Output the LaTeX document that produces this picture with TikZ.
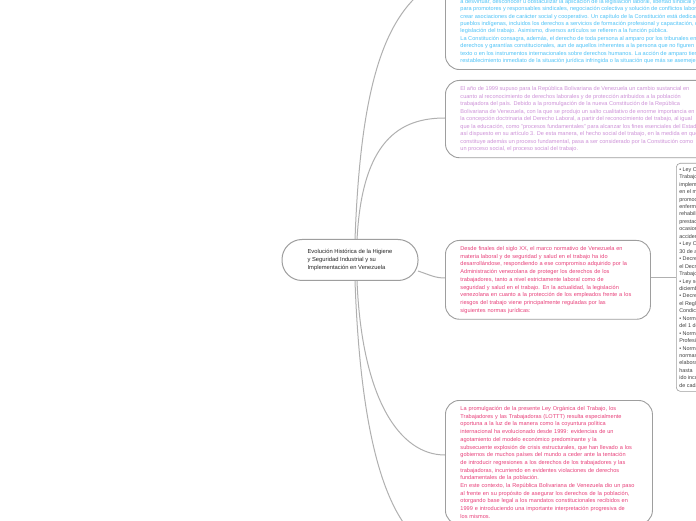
\documentclass[tikz,border=0pt]{standalone}
\usepackage{fontspec}
\setmainfont{Liberation Sans}
\definecolor{cblue}{HTML}{4FC3F7}
\definecolor{cpurp}{HTML}{CE93D8}
\definecolor{cpink}{HTML}{E8407A}
\definecolor{cbord}{HTML}{9E9E9E}
\definecolor{cline}{HTML}{B0B0B0}
\begin{document}
\begin{tikzpicture}[x=1pt,y=1pt,
  box/.style={draw=cbord,line width=0.9pt,rounded corners=14pt,fill=white,align=left,inner xsep=15pt,inner ysep=6pt,font=\fontsize{5.6}{7.5}\selectfont},
  rbox/.style={draw=cbord,line width=0.6pt,rounded corners=4pt,fill=white,align=left,inner xsep=3pt,inner ysep=4pt,font=\fontsize{5.4}{7.45}\selectfont,text=black!75},
  conn/.style={draw=cline,line width=1pt}]
\useasboundingbox (0,0) rectangle (696,520);
\clip (0,0) rectangle (696,520);
\fill[white] (0,0) rectangle (696,520);
\coordinate (topend) at (418,525);
\coordinate (botend) at (405,-5);
% connectors
\draw[conn] (355,280) .. controls (360,420) and (380,490) .. (topend);
\draw[conn] (357,280) .. controls (362,380) and (400,402) .. (445,402);
\draw[conn] (418,249) .. controls (430,245) and (435,242) .. (445,242);
\draw[conn] (357,239) .. controls (362,120) and (400,65) .. (445,65);
\draw[conn] (355,239) .. controls (360,100) and (380,30) .. (botend);
\draw[conn] (650,242) -- (676,242);
\node[box,text=cblue,anchor=south west,font=\fontsize{5.6}{7.35}\selectfont] (b1) at (445,450) {%
hidden line of text placed above the visible area of the box\\
hidden line of text placed above the visible area of the box\\
a desvirtuar, desconocer u obstaculizar la aplicación de la legislación laboral, libertad sindical y protección\\
para promotores y responsables sindicales, negociación colectiva y solución de conflictos laborales, derecho a\\
crear asociaciones de carácter social y cooperativo. Un capítulo de la Constitución está dedicado a los derechos de los\\
pueblos indígenas, incluidos los derechos a servicios de formación profesional y capacitación, de acuerdo a la\\
legislación del trabajo. Asimismo, diversos artículos se refieren a la función pública.\\
La Constitución consagra, además, el derecho de toda persona al amparo por los tribunales en el goce y ejercicio de los\\
derechos y garantías constitucionales, aun de aquellos inherentes a la persona que no figuren expresamente en este\\
texto o en los instrumentos internacionales sobre derechos humanos. La acción de amparo tiene por objeto el\\
restablecimiento inmediato de la situación jurídica infringida o la situación que más se asemeje a ella.};
\node[box,text=cpurp,anchor=north west] (b2) at (445,440) {%
El año de 1999 supuso para la República Bolivariana de Venezuela un cambio sustancial en\\
cuanto al reconocimiento de derechos laborales y de protección atribuidos a la población\\
trabajadora del país. Debido a la promulgación de la nueva Constitución de la República\\
Bolivariana de Venezuela, con la que se produjo un salto cualitativo de enorme importancia en\\
la concepción doctrinaria del Derecho Laboral, a partir del reconocimiento del trabajo, al igual\\
que la educación, como "procesos fundamentales" para alcanzar los fines esenciales del Estado,\\
así dispuesto en su artículo 3. De esta manera, el hecho social del trabajo, en la medida en que\\
constituye además un proceso fundamental, pasa a ser considerado por la Constitución como\\
un proceso social, el proceso social del trabajo.};
\node[box,text=cpink,anchor=north west,text width=175pt,font=\fontsize{5.6}{7.7}\selectfont] (b3) at (445,280) {%
Desde finales del siglo XX, el marco normativo de Venezuela en\\
materia laboral y de seguridad y salud en el trabajo ha ido\\
desarrollándose, respondiendo a ese compromiso adquirido por la\\
Administración venezolana de proteger los derechos de los\\
trabajadores, tanto a nivel estrictamente laboral como de\\
seguridad y salud en el trabajo. En la actualidad, la legislación\\
venezolana en cuanto a la protección de los empleados frente a los\\
riesgos del trabajo viene principalmente reguladas por las\\
siguientes normas jurídicas:};
\node[box,text=cpink,anchor=north west,text width=177pt,font=\fontsize{5.6}{7.7}\selectfont] (b4) at (445,120) {%
La promulgación de la presente Ley Orgánica del Trabajo, los\\
Trabajadores y las Trabajadoras (LOTTT) resulta especialmente\\
oportuna a la luz de la manera como la coyuntura política\\
internacional ha evolucionado desde 1999: evidencias de un\\
agotamiento del modelo económico predominante y la\\
subsecuente explosión de crisis estructurales, que han llevado a los\\
gobiernos de muchos países del mundo a ceder ante la tentación\\
de introducir regresiones a los derechos de los trabajadores y las\\
trabajadoras, incurriendo en evidentes violaciones de derechos\\
fundamentales de la población.\\
En este contexto, la República Bolivariana de Venezuela dio un paso\\
al frente en su propósito de asegurar los derechos de la población,\\
otorgando base legal a los mandatos constitucionales recibidos en\\
1999 e introduciendo una importante interpretación progresiva de\\
los mismos.\\[6pt]};
\node[rbox,anchor=north west] (r) at (676,357) {%
• Ley Orgánica de Prevención\\
Trabajo\\
implementar\\
en el medio\\
promoción\\
enfermedades\\
rehabilitación\\
prestaciones\\
ocasionados\\
accidentes\\
• Ley Orgánica\\
30 de abril\\
• Decreto\\
el Decreto\\
Trabajo\\
• Ley sobre\\
diciembre\\
• Decreto\\
el Reglamento\\
Condiciones\\
• Norma\\
del 1 de\\
• Norma\\
Profesionales\\
• Norma\\
normas\\
elaboradas\\
hasta\\
ido incorporando\\
de cada};
\node[draw=cbord,line width=1pt,rounded corners=20pt,fill=white,minimum width=136pt,minimum height=41pt,align=left,font=\fontsize{5.8}{8.2}\selectfont,text=black!85] (c) at (350,260) {%
Evolución Histórica de la Higiene\\
y Seguridad Industrial y su\\
Implementación en Venezuela};
\end{tikzpicture}
\end{document}
